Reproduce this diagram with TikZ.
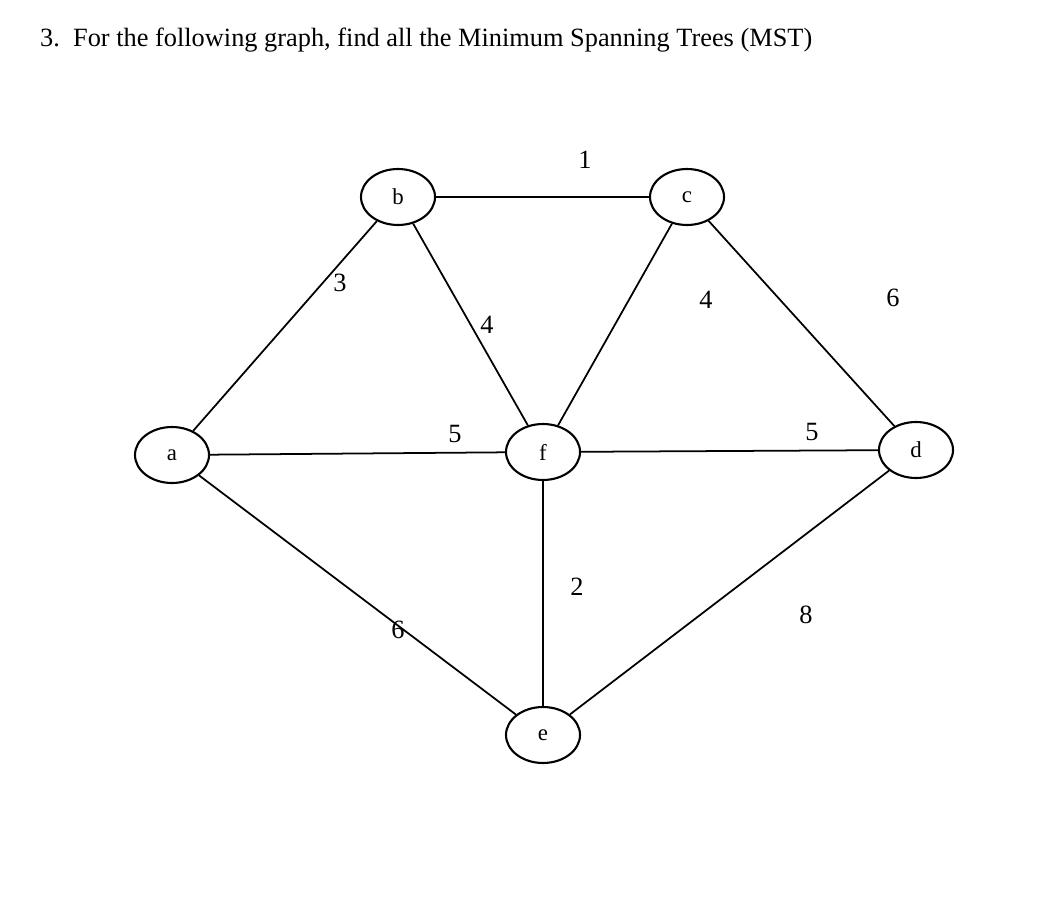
\documentclass[tikz,border=0pt]{standalone}
\usepackage{fontspec}
\setmainfont{Liberation Serif}
\usetikzlibrary{shapes.geometric}
\begin{document}
\begin{tikzpicture}[x=0.02cm,y=-0.02cm,
  vert/.style={draw,ellipse,inner sep=0pt,minimum width=1.48cm,minimum height=1.12cm,line width=1.2pt,font=\fontsize{13}{15}\selectfont},
  wt/.style={font=\fontsize{15}{17}\selectfont},
  edge/.style={line width=1pt}]
\useasboundingbox (0,0) rectangle (1048,922);
\node[anchor=west,font=\fontsize{15}{17}\selectfont] (t) at (34,40) {3.\ \ For the following graph, find all the Minimum Spanning Trees (MST)};
\node[vert] (b) at (398,197) {b};
\node[vert] (c) at (687,197) {c};
\node[vert] (a) at (172,455) {a};
\node[vert] (f) at (543,452) {f};
\node[vert] (d) at (916,450) {d};
\node[vert] (e) at (543,735) {e};
\draw[edge] (b) -- (c);
\draw[edge] (a) -- (b);
\draw[edge] (b) -- (f);
\draw[edge] (c) -- (f);
\draw[edge] (c) -- (d);
\draw[edge] (a) -- (f);
\draw[edge] (f) -- (d);
\draw[edge] (f) -- (e);
\draw[edge] (a) -- (e);
\draw[edge] (e) -- (d);
\node[wt] (w1) at (585,160) {1};
\node[wt] (w2) at (340,283) {3};
\node[wt] (w3) at (487,325) {4};
\node[wt] (w4) at (706,300) {4};
\node[wt] (w5) at (893,298) {6};
\node[wt] (w6) at (455,434) {5};
\node[wt] (w7) at (812,432) {5};
\node[wt] (w8) at (577,587) {2};
\node[wt] (w9) at (806,615) {8};
\node[wt] (w10) at (398,630) {6};
\end{tikzpicture}
\end{document}
